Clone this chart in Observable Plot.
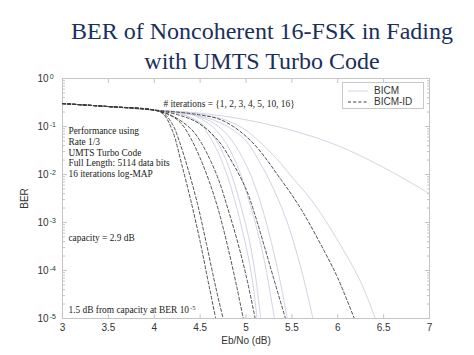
<!DOCTYPE html>
<html><head><meta charset="utf-8">
<script src="https://cdn.jsdelivr.net/npm/d3@7"></script>
<script src="https://cdn.jsdelivr.net/npm/@observablehq/plot@0.6"></script>
<style>
body{margin:0;background:#fff;}
#wrap{position:relative;width:474px;height:355px;overflow:hidden;background:#fff;}
#title{height:68px;box-sizing:border-box;padding-top:16px;padding-left:50px;text-align:center;font-family:"Liberation Serif","Times New Roman",serif;font-size:24px;line-height:30px;color:#1b2f5c;}
#legend{position:absolute;left:342px;top:82px;width:82px;height:27px;border:1px solid #c8c8c8;background:#fff;font-family:"Liberation Sans",Arial,sans-serif;font-size:10px;color:#333;box-sizing:border-box;padding:2px 0 0 5px;}
#legend .row{display:flex;align-items:center;height:11px;}
#legend svg{margin-right:6px;}
</style></head><body>
<div id="wrap">
<div id="title">BER of Noncoherent 16-FSK in Fading<br>with UMTS Turbo Code</div>
<div id="chart"></div>
<div id="legend"></div>
</div>
<script>
// ---- data (Eb/No in dB, BER) ----
const bicm1  = [[3,0.30],[3.5,0.26],[4,0.22],[4.5,0.19],[5,0.138],[5.5,0.083],[6,0.04],[6.5,0.014],[7,0.004]];
const bicm2  = [[3,0.30],[3.5,0.26],[4,0.22],[4.5,0.182],[4.8,0.132],[5,0.083],[5.3,0.025],[5.5,0.0089],[5.74,0.0025],[6.06,2.7e-4],[6.25,5.8e-5],[6.41,1e-5]];
const bicm3  = [[3,0.30],[3.5,0.26],[4,0.22],[4.5,0.166],[4.8,0.1],[5,0.05],[5.15,0.018],[5.3,0.005],[5.45,0.001],[5.6,1.1e-4],[5.73,1e-5]];
const bicm4  = [[3,0.30],[3.5,0.26],[4,0.22],[4.5,0.158],[4.7,0.1],[4.85,0.05],[5,0.016],[5.1,0.0056],[5.2,0.0014],[5.3,2.5e-4],[5.38,5e-5],[5.45,1e-5]];
const bicm5  = [[3,0.30],[3.5,0.26],[4,0.22],[4.4,0.178],[4.6,0.112],[4.75,0.056],[4.9,0.016],[5,0.0045],[5.1,0.001],[5.2,1.6e-4],[5.31,1e-5]];
const bicm10 = [[3,0.30],[3.5,0.26],[4,0.22],[4.3,0.182],[4.5,0.12],[4.65,0.06],[4.75,0.028],[4.85,0.0089],[4.95,0.002],[5.05,3.2e-4],[5.11,6.3e-5],[5.16,1e-5]];
const bicm16 = [[3,0.30],[3.5,0.26],[4,0.22],[4.3,0.182],[4.5,0.112],[4.6,0.063],[4.7,0.028],[4.8,0.0089],[4.9,0.002],[5,3.2e-4],[5.07,6.3e-5],[5.12,1e-5]];
const id2  = [[3,0.30],[3.5,0.26],[4,0.22],[4.5,0.174],[4.75,0.132],[5.05,0.051],[5.38,0.0079],[5.6,0.0019],[5.85,2.6e-4],[6,7e-5],[6.18,1e-5]];
const id3  = [[3,0.30],[3.5,0.26],[4,0.22],[4.3,0.166],[4.5,0.112],[4.7,0.05],[4.85,0.018],[5,0.005],[5.1,0.0014],[5.2,3.2e-4],[5.3,7e-5],[5.43,1e-5]];
const id4  = [[3,0.30],[3.5,0.26],[4,0.22],[4.2,0.166],[4.4,0.089],[4.5,0.05],[4.6,0.022],[4.7,0.0079],[4.8,0.002],[4.9,4.5e-4],[5,8e-5],[5.1,1e-5]];
const id5  = [[3,0.30],[3.5,0.26],[4,0.22],[4.2,0.16],[4.3,0.112],[4.4,0.056],[4.5,0.022],[4.6,0.0071],[4.7,0.0018],[4.8,3.2e-4],[4.9,4.5e-5],[4.97,1e-5]];
const id10 = [[3,0.30],[3.5,0.26],[4,0.22],[4.1,0.19],[4.2,0.11],[4.28,0.045],[4.37,0.0126],[4.47,0.0025],[4.57,3.5e-4],[4.67,4.5e-5],[4.75,1e-5]];
const id16 = [[3,0.30],[3.5,0.26],[4,0.22],[4.1,0.18],[4.2,0.08],[4.3,0.016],[4.4,0.0028],[4.5,4e-4],[4.6,4.5e-5],[4.67,1e-5]];

const schemes = ["BICM", "BICM-ID"];
const iterations = [1, 2, 3, 4, 5, 10, 16];
const bicmCurves = [bicm1, bicm2, bicm3, bicm4, bicm5, bicm10, bicm16];
const idCurves = [null, id2, id3, id4, id5, id10, id16];

const xTicks = [3, 3.5, 4, 4.5, 5, 5.5, 6, 6.5, 7];
const yMajor = [1, 1e-1, 1e-2, 1e-3, 1e-4, 1e-5];
const yMinor = [2,3,4,5,6,7,8,9].flatMap(m => [1e-1,1e-2,1e-3,1e-4,1e-5].map(p => m * p));

const noteText = ["# iterations = {1, 2, 3, 4, 5, 10, 16}",
  "Performance using\nRate 1/3\nUMTS Turbo Code\nFull Length: 5114 data bits\n16 iterations log-MAP",
  "capacity = 2.9 dB",
  "1.5 dB from capacity at BER 10^-5"];
const noteX = [4.10, 3.065, 3.065, 3.065];
const noteY = [0.30, 0.029, 4.9e-4, 1.55e-5];

// ---- build table ----
const rows = [];
iterations.forEach((it, i) => {
  bicmCurves[i].forEach(([x, y]) => rows.push({x, y, scheme: schemes[0], key: "b" + it}));
  if (idCurves[i]) idCurves[i].forEach(([x, y]) => rows.push({x, y, scheme: schemes[1], key: "i" + it}));
});
const notes = noteText.map((t, i) => ({t, x: noteX[i], y: noteY[i]}));

const solidColor = "#d2d4e4", dashColor = "#3c3c3c", axisColor = "#c4c4c4";

const chart = Plot.plot({
  width: 474, height: 287,
  marginLeft: 62, marginRight: 45, marginTop: 10, marginBottom: 37,
  style: {fontFamily: "'Liberation Sans', Arial, sans-serif", fontSize: "10px", color: "#333", background: "#fff"},
  x: {domain: [3, 7]},
  y: {type: "log", domain: [1e-5, 1]},
  marks: [
    Plot.frame({stroke: axisColor}),
    Plot.axisY({ticks: yMajor, tickSize: 0, tickPadding: 0, textAnchor: "start", dx: -25,
      tickFormat: d => "10^" + Math.round(Math.log10(d)), fill: "#333",
      label: "BER", labelAnchor: "center", labelOffset: 42, labelArrow: "none"}),
    Plot.axisY({ticks: yMinor, tickSize: -3, tickFormat: () => "", label: null, stroke: axisColor}),
    Plot.axisY({ticks: yMajor, tickSize: -5, tickFormat: () => "", label: null, stroke: axisColor}),
    Plot.axisY({anchor: "right", ticks: yMinor, tickSize: -3, tickFormat: () => "", label: null, stroke: axisColor}),
    Plot.axisY({anchor: "right", ticks: yMajor, tickSize: -5, tickFormat: () => "", label: null, stroke: axisColor}),
    Plot.axisX({ticks: xTicks, tickSize: 0, tickPadding: 5, tickFormat: d => String(d), fill: "#333",
      label: "Eb/No (dB)", labelAnchor: "center", labelOffset: 25, labelArrow: "none"}),
    Plot.axisX({ticks: xTicks, tickSize: -4, tickFormat: () => "", label: null, stroke: axisColor}),
    Plot.axisX({anchor: "top", ticks: xTicks, tickSize: -4, tickFormat: () => "", label: null, stroke: axisColor}),
    Plot.line(rows.filter(d => d.scheme === "BICM"), {x: "x", y: "y", z: "key", stroke: solidColor, strokeWidth: 1, curve: "catmull-rom", clip: true}),
    Plot.line(rows.filter(d => d.scheme === "BICM-ID"), {x: "x", y: "y", z: "key", stroke: dashColor, strokeWidth: 0.9, strokeDasharray: "3,2.2", curve: "catmull-rom", clip: true}),
    Plot.text(notes, {x: "x", y: "y", text: "t", textAnchor: "start", lineAnchor: "middle", lineHeight: 1.14,
      fontFamily: "'Liberation Serif', 'Times New Roman', serif", fontSize: 9.4, fill: "#222"})
  ]
});

// superscripts for "base^exp" texts
chart.querySelectorAll("text, tspan").forEach(el => {
  if (el.children.length) return;
  const t = el.textContent, i = t.indexOf("^");
  if (i < 0) return;
  el.textContent = t.slice(0, i);
  const sup = document.createElementNS("http://www.w3.org/2000/svg", "tspan");
  sup.setAttribute("dy", "-0.45em");
  sup.setAttribute("dx", "1");
  sup.setAttribute("font-size", "0.7em");
  sup.textContent = t.slice(i + 1);
  el.appendChild(sup);
});
document.getElementById("chart").appendChild(chart);

// legend
const legend = document.getElementById("legend");
schemes.forEach((s, i) => {
  const row = document.createElement("div");
  row.className = "row";
  const dash = i === 1 ? ' stroke-dasharray="3,2.2"' : '';
  row.innerHTML = `<svg width="20" height="4"><line x1="0" x2="20" y1="2" y2="2" stroke="${i === 1 ? dashColor : solidColor}" stroke-width="1"${dash}/></svg><span>${s}</span>`;
  legend.appendChild(row);
});
</script>
</body></html>
